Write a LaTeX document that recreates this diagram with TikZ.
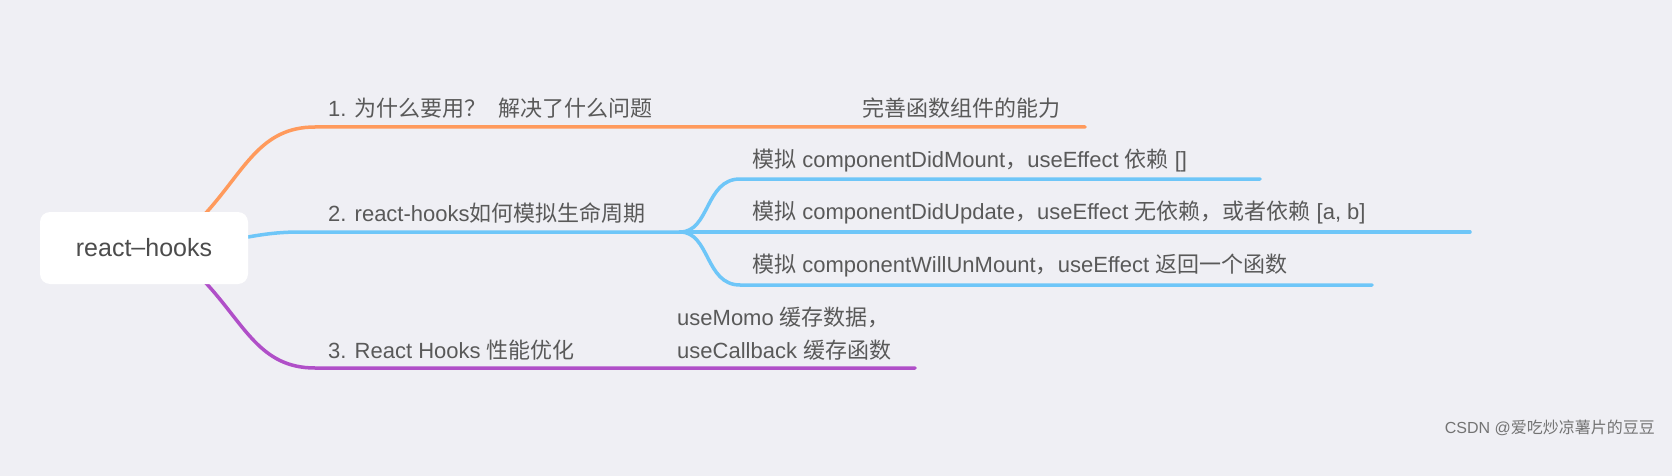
\documentclass[tikz,border=0pt]{standalone}
\usepackage{fontspec}
\setmainfont{Liberation Sans}
\newfontfamily\cjk{Noto Sans CJK SC}
\newcommand{\zh}[1]{{\cjk #1}}
\begin{document}
\begin{tikzpicture}[x=1pt,y=-1pt,
  lbl/.style={anchor=west,inner sep=0pt,text=black!65,font=\fontsize{22}{26}\selectfont},
  br/.style={line width=3.5pt,line cap=round}]
\definecolor{bg}{HTML}{EFEFF4}
\definecolor{orn}{HTML}{FF9A5C}
\definecolor{blu}{HTML}{6EC6F8}
\definecolor{pur}{HTML}{B04FC8}
\fill[bg] (0,0) rectangle (1672,476);
\useasboundingbox (0,0) rectangle (1672,476);
% branches
\coordinate (o1) at (205,214);
\coordinate (o1e) at (315,127);
\coordinate (o1f) at (1085,127);
\draw[br,orn] (o1) .. controls (245,170) and (260,127) .. (o1e) -- (o1f);
\coordinate (b0) at (248,237);
\coordinate (b1) at (300,232);
\coordinate (bf) at (680,232);
\coordinate (c1) at (740,179);
\coordinate (c1e) at (1260,179);
\coordinate (c2e) at (1470,232);
\coordinate (c3) at (740,285);
\coordinate (c3e) at (1372,285);
\draw[br,blu] (b0) .. controls (265,234) and (280,232) .. (b1) -- (bf);
\draw[br,blu] (bf) .. controls (710,232) and (705,179) .. (c1) -- (c1e);
\draw[br,blu] (bf) -- (c2e);
\draw[br,blu] (bf) .. controls (710,232) and (705,285) .. (c3) -- (c3e);
\coordinate (p0) at (205,282);
\coordinate (p1) at (315,368);
\coordinate (p2) at (915,368);
\draw[br,pur] (p0) .. controls (245,325) and (260,368) .. (p1) -- (p2);
% root
\node[fill=white,rounded corners=10pt,minimum width=208pt,minimum height=72pt,
  text=black!70,font=\fontsize{25}{30}\selectfont] (root) at (144,248) {react\raisebox{1pt}{--}hooks};
% labels
\node[lbl] (t1) at (328,108) {1. \zh{为什么要用？}\hspace{12pt}\zh{解决了什么问题}};
\node[lbl] (t1b) at (862,108) {\zh{完善函数组件的能力}};
\node[lbl] (t2) at (328,213) {2. react-hooks\zh{如何模拟生命周期}};
\node[lbl] (t21) at (752,161) {\zh{模拟} componentDidMount\zh{，}useEffect \zh{依赖} []};
\node[lbl] (t22) at (752,213) {\zh{模拟} componentDidUpdate\zh{，}useEffect \zh{无依赖，或者依赖} [a, b]};
\node[lbl] (t23) at (752,266) {\zh{模拟} componentWillUnMount\zh{，}useEffect \zh{返回一个函数}};
\node[lbl] (t3) at (328,350) {3. React Hooks \zh{性能优化}};
\node[lbl] (t31) at (677,317) {useMomo \zh{缓存数据，}};
\node[lbl] (t32) at (677,350) {useCallback \zh{缓存函数}};
\node[anchor=east,inner sep=0pt,text=black!55,font=\fontsize{16}{19}\selectfont] (wm) at (1655,428) {CSDN @\zh{爱吃炒凉薯片的豆豆}};
\end{tikzpicture}
\end{document}
